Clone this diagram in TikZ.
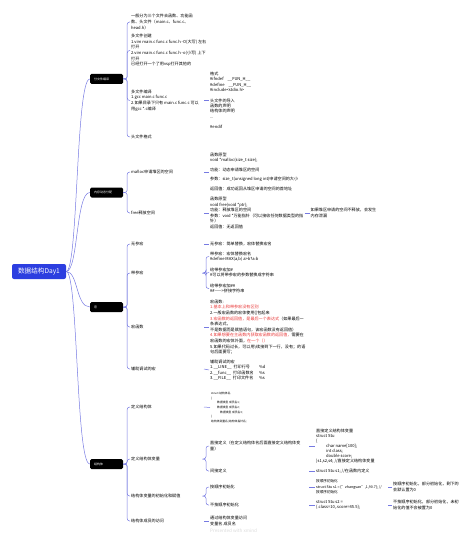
\documentclass[tikz,border=0pt]{standalone}
\usepackage{fontspec}
\setmainfont{Noto Sans CJK SC}
\usetikzlibrary{calc}
\definecolor{rootblue}{RGB}{44,62,224}
\definecolor{linkc}{RGB}{118,122,226}
\definecolor{hred}{RGB}{232,56,56}

\begin{document}
\begin{tikzpicture}[x=1pt, y=-1pt,
	root/.style={fill=rootblue, text=white, rounded corners=2pt, minimum width=54pt, minimum height=15pt, inner sep=0pt, font=\fontsize{6.6}{7}\selectfont},
	topic/.style={fill=black, text=white, rounded corners=1.5pt, text width=25pt, minimum height=10pt, inner xsep=4pt, inner ysep=0pt, align=left, font=\fontsize{3}{3.5}\selectfont},
	info/.style={anchor=west, inner sep=1pt, align=left, font=\fontsize{4.1}{5.6}\selectfont},
	tiny/.style={info, font=\fontsize{2.8}{4.7}\selectfont},
	link/.style={draw=linkc, line width=0.5pt},
	bracket/.style={link, rounded corners=2.5pt}]
	\useasboundingbox (0,0) rectangle (474,540);

	\node [root] (day1) at (39,271.5) {数据结构Day1};
	\node [topic] (fwj) at (106.5,79) {分文件编译};
	\node [topic] (nc) at (106.5,192.5) {内存动态分配};
	\node [topic] (hong) at (106.5,307) {宏};
	\node [topic] (jgt) at (106.5,464) {结构体};

	\node [info] (fwj1) at (130,22) {一般分为三个文件去函数、功能函\\数、头文件（main.c、func.c、\\head.h）};
	\node [info] (fwj2) at (130,50.5) {多文件创建\\1.vim main.c func.c func.h -O(大写) 左右\\打开\\2.vim main.c func.c func.h -o(小写) 上下\\打开\\已经打开一个了用vsp打开其他的};
	\node [info] (fwj3) at (130,100.5) {多文件编译\\1.gcc main.c func.c\\2.如果目录下只有 main.c func.c 可以\\用gcc *.c编译};
	\node [info] (fwj4) at (130,137) {头文件格式};
	\node [info, font=\fontsize{4.1}{5.35}\selectfont] (fmt) at ($(fwj3.west)+(79,0)$) {格式\\\#ifndef\quad\_\_FUN\_H\_\_\\\#define\quad\_\_FUN\_H\_\_\\\#include<stdio.h>\\~\\头文件的导入\\函数的声明\\结构体的声明\\...\\~\\\#endif};

	\node [info] (nc1) at (130,172) {malloc申请堆区的空间};
	\node [info] (nc2) at (130,213) {free释放空间};
	\node [info, font=\fontsize{4.1}{4.9}\selectfont] (nc1d) at ($(nc1.west)+(79,0)$) {函数原型\\void *malloc(size\_t size);\\~\\功能：动态申请堆区的空间\\~\\参数：size\_t(unsigned long int)申请空间的大小\\~\\返回值：成功返回从堆区申请的空间的首地址};
	\node [info] (nc2d) at ($(nc2.west)+(79,0)$) {函数原型\\void free(void *ptr);\\功能：释放堆区的空间\\参数：void *万能指针（可以接收任何数据类型的指\\针）\\返回值：无返回值};
	\node [info] (leak) at ($(nc2d.east)+(5,0)$) {如果堆区申请的空间不释放，会发生\\内存泄漏};

	\node [info] (h1) at (130,244) {无参宏};
	\node [info] (h2) at (130,273) {带参宏};
	\node [info] (h3) at (130,327) {宏函数};
	\node [info] (h4) at (130,369) {辅助调试的宏};
	\node [info] (h1d) at ($(h1.west)+(79,0)$) {无参宏：简单替换，宏体替换宏名};
	\node [info] (h2a) at (209,256.5) {带参宏：宏体替换宏名\\\#define MAX(a,b) a>b?a:b};
	\node [info] (h2b) at (209,272.5) {给带参宏加\#\\\#可以将带参宏的参数替换成字符串};
	\node [info] (h2c) at (209,288.5) {给带参宏加\#\#\\\#\#——>拼接字符串};
	\node [info] (h3d) at ($(h3.west)+(79,0)$) {宏函数:\\{\color{hred}1.基本上和带参宏没有区别}\\2.一般宏函数的宏体使用\{\}包起来\\{\color{hred}3.宏函数的返回值，是最后一个表达式}（如果最后一\\条表达式，\\不是数据而是赋值语句，该宏函数没有返回值）\\{\color{hred}4.如果想要在主函数内获取宏函数的返回值，}需要在\\宏函数的宏体外面，{\color{hred}在一个（）}\\5.如果代码过长，可以用\textbackslash 续接到下一行，没有；的语\\句后面要写；};
	\node [info] (h4d) at ($(h4.west)+(79,1)$) {辅助调试的宏\\\makebox[49pt][l]{1.\_\_LINE\_\_\enspace 打印行号}\%d\\\makebox[49pt][l]{2.\_\_func\_\_\enspace 打印函数名}\%s\\\makebox[49pt][l]{3.\_\_FILE\_\_\enspace 打印文件名}\%s};

	\node [info] (j1) at (130,407) {定义结构体};
	\node [info] (j2) at (130,459) {定义结构体变量};
	\node [info] (j3) at (130,496) {结构体变量的初始化和赋值};
	\node [info] (j4) at (130,521) {结构体成员的访问};
	\node [tiny] (j1d) at ($(j1.west)+(80,0.5)$) {struct 结构体名\\\{\\\hspace*{6pt}数据类型 成员名1;\\\hspace*{6pt}数据类型 成员名2;\\\hspace*{9pt}数据类型 成员名3;\\\}\\结构体变量名/结构体指针名;};
	\node [info] (j2a) at (209,446) {直接定义（在定义结构体名后面直接定义结构体变\\量）};
	\node [info] (j2b) at (209,471) {间接定义};
	\node [info, font=\fontsize{4.1}{5}\selectfont] (j2ad) at ($(j2a.west)+(106,0)$) {直接定义结构体变量\\struct Stu\\\{\\\hspace*{10pt}char name[100];\\\hspace*{10pt}int class;\\\hspace*{10pt}double score;\\\}s1,s2,s4; //直接定义结构体变量};
	\node [info] (j2bd) at ($(j2b.west)+(106,0)$) {struct Stu s1; //在函数内定义};
	\node [info] (j3a) at (209,487) {按顺序初始化};
	\node [info] (j3b) at (209,505) {不按顺序初始化};
	\node [info, font=\fontsize{3.6}{5.6}\selectfont] (j3ad) at ($(j3a.west)+(106,0)$) {按顺序初始化\\struct Stu s1 = \{"zhangsan",1,90.7\}; //\\按顺序初始化};
	\node [info] (j3bd) at ($(j3b.west)+(106,0)$) {struct Stu s2 =\\\{.class=10,.score=45.5\};};
	\node [info] (j3an) at ($(j3ad.west)+(77,0)$) {按顺序初始化，部分初始化，剩下的\\会默认置为0};
	\node [info] (j3bn) at ($(j3bd.west)+(77,0)$) {不按顺序初始化，部分初始化，未初\\始化的值不会被置为0};
	\node [info] (j4d) at ($(j4.west)+(79,0)$) {通过结构体变量访问\\变量名.成员名};
	\node [info, text=gray!30, font=\fontsize{4.6}{5}\selectfont] (wm) at (209,531) {Presented with xmind};

	\draw [link] (day1.east) .. controls +(12,0) and +(-14,0) .. (fwj.west);
	\draw [link] (day1.east) .. controls +(12,0) and +(-14,0) .. (nc.west);
	\draw [link] (day1.east) .. controls +(12,0) and +(-14,0) .. (hong.west);
	\draw [link] (day1.east) .. controls +(12,0) and +(-14,0) .. (jgt.west);

	\draw [bracket] (fwj.east) -- ++(4,0) |- (fwj1.west);
	\draw [bracket] (fwj.east) -- ++(4,0) |- (fwj2.west);
	\draw [bracket] (fwj.east) -- ++(4,0) |- (fwj3.west);
	\draw [bracket] (fwj.east) -- ++(4,0) |- (fwj4.west);
	\draw [link] ([xshift=74pt]fwj3.west) -- (fmt.west);

	\draw [bracket] (nc.east) -- ++(4,0) |- (nc1.west);
	\draw [bracket] (nc.east) -- ++(4,0) |- (nc2.west);
	\draw [link] ([xshift=74pt]nc1.west) -- (nc1d.west);
	\draw [link] ([xshift=74pt]nc2.west) -- (nc2d.west);
	\draw [link] (nc2d.east) -- (leak.west);

	\draw [bracket] (hong.east) -- ++(4,0) |- (h1.west);
	\draw [bracket] (hong.east) -- ++(4,0) |- (h2.west);
	\draw [bracket] (hong.east) -- ++(4,0) |- (h3.west);
	\draw [bracket] (hong.east) -- ++(4,0) |- (h4.west);
	\draw [link] ([xshift=74pt]h1.west) -- (h1d.west);
	\draw [bracket] ([xshift=74pt]h2.west) -- ++(2,0) |- (h2a.west);
	\draw [bracket] ([xshift=74pt]h2.west) -- ++(2,0) |- (h2b.west);
	\draw [bracket] ([xshift=74pt]h2.west) -- ++(2,0) |- (h2c.west);
	\draw [link] ([xshift=74pt]h3.west) -- (h3d.west);
	\draw [link] ([xshift=74pt]h4.west) -- (h4d.west);

	\draw [bracket] (jgt.east) -- ++(4,0) |- (j1.west);
	\draw [bracket] (jgt.east) -- ++(4,0) |- (j2.west);
	\draw [bracket] (jgt.east) -- ++(4,0) |- (j3.west);
	\draw [bracket] (jgt.east) -- ++(4,0) |- (j4.west);
	\draw [link] ([xshift=74pt]j1.west) -- (j1d.west);
	\draw [bracket] ([xshift=74pt]j2.west) -- ++(2,0) |- (j2a.west);
	\draw [bracket] ([xshift=74pt]j2.west) -- ++(2,0) |- (j2b.west);
	\draw [link] ([xshift=100pt]j2a.west) -- (j2ad.west);
	\draw [link] ([xshift=100pt]j2b.west) -- (j2bd.west);
	\draw [bracket] ([xshift=74pt]j3.west) -- ++(2,0) |- (j3a.west);
	\draw [bracket] ([xshift=74pt]j3.west) -- ++(2,0) |- (j3b.west);
	\draw [link] ([xshift=100pt]j3a.west) -- (j3ad.west);
	\draw [link] ([xshift=100pt]j3b.west) -- (j3bd.west);
	\draw [link] ([xshift=73pt]j3ad.west) -- (j3an.west);
	\draw [link] ([xshift=73pt]j3bd.west) -- (j3bn.west);
	\draw [link] ([xshift=74pt]j4.west) -- (j4d.west);
\end{tikzpicture}
\end{document}
